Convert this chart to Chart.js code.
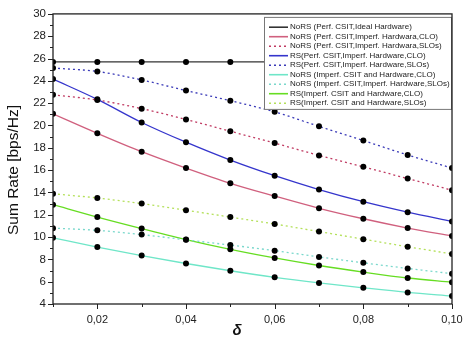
<!DOCTYPE html>
<html>
<head>
<meta charset="utf-8">
<script src="https://cdn.jsdelivr.net/npm/chart.js@4/dist/chart.umd.min.js"></script>
<style>
  html, body { margin: 0; padding: 0; background: #fff; }
  #wrap { width: 474px; height: 342px; }
</style>
</head>
<body>
<div id="wrap"><canvas id="sumRate"></canvas></div>
<script>
// delta values on the x axis
const deltas = [0.01, 0.02, 0.03, 0.04, 0.05, 0.06, 0.07, 0.08, 0.09, 0.10];

// sum rate [bps/Hz] per scheme
const noRsIdeal   = [25.7, 25.7, 25.7, 25.7, 25.7, 25.7, 25.7, 25.7, 25.7, 25.7];
const noRsPerfClo = [21.04, 19.3, 17.65, 16.18, 14.82, 13.67, 12.58, 11.64, 10.81, 10.1];
const noRsPerfSlo = [22.75, 22.28, 21.51, 20.54, 19.48, 18.42, 17.32, 16.3, 15.24, 14.2];
const rsPerfClo   = [24.16, 22.34, 20.27, 18.5, 16.9, 15.5, 14.26, 13.17, 12.23, 11.4];
const rsPerfSlo   = [25.15, 24.84, 24.08, 23.13, 22.22, 21.22, 19.92, 18.65, 17.36, 16.18];
const noRsImpClo  = [9.93, 9.1, 8.34, 7.63, 6.98, 6.39, 5.89, 5.45, 5.04, 4.71];
const noRsImpSlo  = [10.8, 10.6, 10.22, 9.75, 9.28, 8.78, 8.22, 7.69, 7.19, 6.72];
const rsImpClo    = [12.9, 11.79, 10.76, 9.78, 8.9, 8.13, 7.45, 6.86, 6.33, 5.95];
const rsImpSlo    = [13.88, 13.5, 13.0, 12.4, 11.79, 11.17, 10.49, 9.81, 9.13, 8.49];

const seriesLabels = [
  'NoRS (Perf. CSIT,Ideal Hardware)',
  'NoRS (Perf. CSIT,Imperf. Hardwara,CLO)',
  'NoRS (Perf. CSIT,Imperf. Hardwara,SLOs)',
  'RS(Perf. CSIT,Imperf. Hardware,CLO)',
  'RS(Perf. CSIT,Imperf. Hardware,SLOs)',
  'NoRS (Imperf. CSIT and Hardware,CLO)',
  'NoRS (Imperf. CSIT,Imperf. Hardware,SLOs)',
  'RS(Imperf. CSIT and Hardware,CLO)',
  'RS(Imperf. CSIT and Hardware,SLOs)'
];

const FONT = '"Liberation Sans", Arial, sans-serif';
const DOTS = [2, 3];

function serie(label, values, color, dashed) {
  return {
    label: label,
    data: deltas.map((d, i) => ({ x: d, y: values[i] })),
    borderColor: color,
    backgroundColor: color,
    borderWidth: 1.3,
    borderDash: dashed ? DOTS : [],
    pointRadius: 3,
    pointBackgroundColor: '#000',
    pointBorderColor: '#000',
    pointBorderWidth: 0,
    cubicInterpolationMode: 'monotone',
    clip: 0
  };
}

// keep markers at the end values cut by the plot border
const clipPlot = {
  id: 'clipPlot',
  beforeDatasetsDraw(chart) {
    const a = chart.chartArea;
    chart.ctx.save();
    chart.ctx.beginPath();
    chart.ctx.rect(a.left, a.top, a.right - a.left, a.bottom - a.top);
    chart.ctx.clip();
  },
  afterDatasetsDraw(chart) {
    chart.ctx.restore();
  }
};

// frame, outward ticks (long on labelled values) and axis titles
const framePlugin = {
  id: 'frame',
  afterDraw(chart) {
    const ctx = chart.ctx;
    const a = chart.chartArea;
    const xs = chart.scales.x, ys = chart.scales.y;
    ctx.save();
    ctx.strokeStyle = '#222';
    ctx.lineWidth = 1.3;
    ctx.strokeRect(a.left, a.top, a.right - a.left, a.bottom - a.top);
    ctx.lineWidth = 1;
    ctx.beginPath();
    xs.ticks.forEach(t => {
      const px = Math.round(xs.getPixelForValue(t.value)) + 0.5;
      const major = Math.round(t.value * 100) % 2 === 0;
      ctx.moveTo(px, a.bottom);
      ctx.lineTo(px, a.bottom + (major ? 5 : 3));
    });
    ys.ticks.forEach(t => {
      const py = Math.round(ys.getPixelForValue(t.value)) + 0.5;
      const major = Math.round(t.value) % 2 === 0;
      ctx.moveTo(a.left, py);
      ctx.lineTo(a.left - (major ? 5 : 3), py);
    });
    ctx.stroke();

    ctx.fillStyle = '#111';
    ctx.textAlign = 'center';
    ctx.textBaseline = 'middle';
    ctx.font = 'bold italic 15px ' + FONT;
    ctx.fillText('δ', a.left + 184, 331);
    ctx.translate(14, 170);
    ctx.rotate(-Math.PI / 2);
    ctx.font = '15.5px ' + FONT;
    ctx.fillText('Sum Rate [bps/Hz]', 0, 0);
    ctx.restore();
  }
};

// boxed legend in the upper right corner of the plot
const legendBox = {
  id: 'legendBox',
  afterDatasetsDraw(chart) {
    const ctx = chart.ctx;
    const a = chart.chartArea;
    const w = 188, h = 93;
    const x0 = a.right - w, y0 = a.top + 3;
    ctx.save();
    ctx.fillStyle = '#fff';
    ctx.fillRect(x0, y0, w, h);
    ctx.strokeStyle = '#777';
    ctx.lineWidth = 1;
    ctx.strokeRect(x0 + 0.5, y0 + 0.5, w - 1, h - 1);
    ctx.font = '8px ' + FONT;
    ctx.textBaseline = 'middle';
    chart.data.datasets.forEach((ds, i) => {
      const y = y0 + 10.3 + i * 9.5;
      ctx.strokeStyle = ds.borderColor;
      ctx.lineWidth = 1.6;
      ctx.setLineDash(ds.borderDash);
      ctx.beginPath();
      ctx.moveTo(x0 + 5, y);
      ctx.lineTo(x0 + 24, y);
      ctx.stroke();
      ctx.setLineDash([]);
      ctx.fillStyle = '#222';
      ctx.fillText(ds.label, x0 + 26, y);
    });
    ctx.restore();
  }
};

new Chart(document.getElementById('sumRate'), {
  type: 'line',
  data: {
    datasets: [
      serie(seriesLabels[0], noRsIdeal, '#333333', false),
      serie(seriesLabels[1], noRsPerfClo, '#d0607e', false),
      serie(seriesLabels[2], noRsPerfSlo, '#c03a62', true),
      serie(seriesLabels[3], rsPerfClo, '#3535cc', false),
      serie(seriesLabels[4], rsPerfSlo, '#3a3ab8', true),
      serie(seriesLabels[5], noRsImpClo, '#6fe6c8', false),
      serie(seriesLabels[6], noRsImpSlo, '#7ad8cc', true),
      serie(seriesLabels[7], rsImpClo, '#66dd22', false),
      serie(seriesLabels[8], rsImpSlo, '#b4e05a', true)
    ]
  },
  options: {
    responsive: true,
    maintainAspectRatio: false,
    animation: false,
    layout: { padding: { left: 0, right: 22, top: 10, bottom: 0 } },
    plugins: {
      legend: { display: false },
      tooltip: { enabled: false }
    },
    scales: {
      x: {
        type: 'linear',
        min: 0.01,
        max: 0.10,
        grid: { display: false, drawTicks: false },
        border: { display: false },
        ticks: {
          stepSize: 0.01,
          autoSkip: false,
          maxRotation: 0,
          padding: 9,
          color: '#222',
          font: { family: FONT, size: 11 },
          callback: v => {
            const h = Math.round(v * 100);
            return h % 2 === 0 ? (h / 100).toFixed(2).replace('.', ',') : '';
          }
        },
        afterFit: s => { s.height = 38; }
      },
      y: {
        min: 4,
        max: 30,
        grid: { display: false, drawTicks: false },
        border: { display: false },
        ticks: {
          stepSize: 1,
          autoSkip: false,
          padding: 7,
          color: '#222',
          font: { family: FONT, size: 11.5 },
          callback: v => (v % 2 === 0 ? String(v) : '')
        },
        afterFit: s => { s.width = 53; }
      }
    }
  },
  plugins: [clipPlot, framePlugin, legendBox]
});
</script>
</body>
</html>
